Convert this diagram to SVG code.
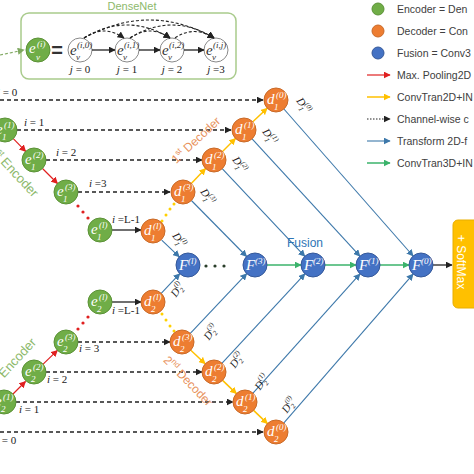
<svg xmlns="http://www.w3.org/2000/svg" width="474" height="474" viewBox="0 0 474 474">
<style>
.enc{fill:#70AD47;stroke:#5B9237;stroke-width:1}
.dec{fill:#ED7D31;stroke:#C96A28;stroke-width:1}
.fus{fill:#4472C4;stroke:#35599A;stroke-width:1}
.dn{fill:#fff;stroke:#8a8a8a;stroke-width:1}
.m{font-family:"Liberation Serif",serif;font-style:italic;fill:#fff}
.mb{font-size:15px}
.ms{font-size:9px}
.dk{fill:#333}
.lab{font-family:"Liberation Serif",serif;font-size:11px;fill:#222}
.dl{font-family:"Liberation Serif",serif;font-style:italic;fill:#222}
.leg{font-family:"Liberation Sans",Arial,sans-serif;font-size:10.5px;fill:#404040}
.dash{stroke:#222;stroke-width:1.3;stroke-dasharray:4 3;fill:none}
.solid{stroke:#222;stroke-width:1.3;fill:none}
.red{stroke:#E02020;stroke-width:1.2;fill:none}
.yel{stroke:#FFC000;stroke-width:1.5;fill:none}
.blu{stroke:#3D78AA;stroke-width:1.1;fill:none}
.grn{stroke:#3BB36B;stroke-width:1.5;fill:none}
.arc{stroke:#222;stroke-width:1.1;stroke-dasharray:3 2;fill:none}
</style>
<defs>
<marker id="ak" viewBox="0 0 10 10" refX="9" refY="5" markerWidth="7" markerHeight="7" markerUnits="userSpaceOnUse" orient="auto"><path d="M0,0L10,5L0,10z" fill="#222"/></marker>
<marker id="ar" viewBox="0 0 10 10" refX="9" refY="5" markerWidth="7" markerHeight="7" markerUnits="userSpaceOnUse" orient="auto"><path d="M0,0L10,5L0,10z" fill="#E02020"/></marker>
<marker id="ay" viewBox="0 0 10 10" refX="9" refY="5" markerWidth="7" markerHeight="7" markerUnits="userSpaceOnUse" orient="auto"><path d="M0,0L10,5L0,10z" fill="#FFC000"/></marker>
<marker id="ab" viewBox="0 0 10 10" refX="9" refY="5" markerWidth="7" markerHeight="7" markerUnits="userSpaceOnUse" orient="auto"><path d="M0,0L10,5L0,10z" fill="#3D78AA"/></marker>
<marker id="ag" viewBox="0 0 10 10" refX="9" refY="5" markerWidth="7" markerHeight="7" markerUnits="userSpaceOnUse" orient="auto"><path d="M0,0L10,5L0,10z" fill="#3BB36B"/></marker>
<marker id="agl" viewBox="0 0 10 10" refX="9" refY="5" markerWidth="7" markerHeight="7" markerUnits="userSpaceOnUse" orient="auto"><path d="M0,0L10,5L0,10z" fill="#7FA860"/></marker>
</defs>

<!-- DenseNet inset -->
<g id="densenet">
<text x="132" y="10" text-anchor="middle" font-family="Liberation Sans,Arial,sans-serif" font-size="11" fill="#8DB96B">DenseNet</text>
<rect x="21" y="13" width="215" height="66" rx="8" fill="none" stroke="#A9CB8C" stroke-width="1.5"/>
<path d="M0,55 L24,50" stroke="#7FA860" stroke-width="1.1" stroke-dasharray="3 2" fill="none" marker-end="url(#agl)"/>
<g id="ev" transform="translate(38,50)"><circle class="enc" r="12"/><text class="m mb" x="-9" y="3">e</text><text class="m ms" x="-1" y="-3">(i)</text><text class="m ms" x="-2" y="10">v</text></g>
<text x="57" y="57" text-anchor="middle" font-family="Liberation Sans,Arial,sans-serif" font-size="20" font-weight="bold" fill="#333">=</text>
<g id="ev0" transform="translate(80,50)"><circle class="dn" r="12"/><text class="m mb dk" x="-10" y="5">e</text><text class="m ms dk" x="-3" y="-2">(i,0)</text><text class="m ms dk" x="-4" y="10">v</text></g>
<g id="ev1" transform="translate(127,50)"><circle class="dn" r="12"/><text class="m mb dk" x="-10" y="5">e</text><text class="m ms dk" x="-3" y="-2">(i,1)</text><text class="m ms dk" x="-4" y="10">v</text></g>
<g id="ev2" transform="translate(172,50)"><circle class="dn" r="12"/><text class="m mb dk" x="-10" y="5">e</text><text class="m ms dk" x="-3" y="-2">(i,2)</text><text class="m ms dk" x="-4" y="10">v</text></g>
<g id="ev3" transform="translate(216,50)"><circle class="dn" r="12"/><text class="m mb dk" x="-10" y="5">e</text><text class="m ms dk" x="-3" y="-2">(i,j)</text><text class="m ms dk" x="-4" y="10">v</text></g>
<text class="lab" x="80" y="73" text-anchor="middle"><tspan font-style="italic">j</tspan> = 0</text>
<text class="lab" x="127" y="73" text-anchor="middle"><tspan font-style="italic">j</tspan> = 1</text>
<text class="lab" x="172" y="73" text-anchor="middle"><tspan font-style="italic">j</tspan> = 2</text>
<text class="lab" x="216" y="73" text-anchor="middle"><tspan font-style="italic">j</tspan> =3</text>
<g id="dn-conn">
<path class="solid" d="M92,50L115,50" marker-end="url(#ak)"/>
<path class="solid" d="M139,50L160,50" marker-end="url(#ak)"/>
<path class="solid" d="M184,50L204,50" marker-end="url(#ak)"/>
<path class="arc" d="M84,38 Q104,24 124,38" marker-end="url(#ak)"/>
<path class="arc" d="M84,38 Q127,12 170,38" marker-end="url(#ak)"/>
<path class="arc" d="M84,38 Q150,2 214,38" marker-end="url(#ak)"/>
<path class="arc" d="M130,38 Q150,24 170,38" marker-end="url(#ak)"/>
<path class="arc" d="M130,38 Q172,12 214,38" marker-end="url(#ak)"/>
<path class="arc" d="M175,38 Q194,25 214,38" marker-end="url(#ak)"/>
</g>
</g>

<!-- Legend -->
<g id="legend">
<circle class="enc" cx="378" cy="9" r="6"/><text class="leg" x="397" y="13">Encoder = Den</text>
<circle class="dec" cx="378" cy="31" r="6"/><text class="leg" x="397" y="35">Decoder = Con</text>
<circle class="fus" cx="378" cy="53" r="6"/><text class="leg" x="397" y="57">Fusion = Conv3</text>
<path class="red" d="M367,75L390,75" marker-end="url(#ar)"/><text class="leg" x="397" y="79">Max. Pooling2D</text>
<path class="yel" d="M367,97L390,97" marker-end="url(#ay)"/><text class="leg" x="397" y="101">ConvTran2D+IN</text>
<path d="M367,119L390,119" stroke="#222" stroke-width="1" stroke-dasharray="1.5 1.5" fill="none" marker-end="url(#ak)"/><text class="leg" x="397" y="123">Channel-wise c</text>
<path class="blu" d="M367,141L390,141" marker-end="url(#ab)"/><text class="leg" x="397" y="145">Transform 2D-f</text>
<path class="grn" d="M367,163L390,163" marker-end="url(#ag)"/><text class="leg" x="397" y="167">ConvTran3D+IN</text>
</g>

<!-- Connectors -->
<g id="connectors">
<path class="dash" d="M0,100L263,100" marker-end="url(#ak)"/>
<path class="dash" d="M17,130L231,130" marker-end="url(#ak)"/>
<path class="dash" d="M46,160L202,160" marker-end="url(#ak)"/>
<path class="dash" d="M78,192L170,192" marker-end="url(#ak)"/>
<path class="solid" d="M112,230L141,230" marker-end="url(#ak)"/>
<path class="solid" d="M112,302L141,302" marker-end="url(#ak)"/>
<path class="dash" d="M78,342L170,342" marker-end="url(#ak)"/>
<path class="dash" d="M46,372L202,372" marker-end="url(#ak)"/>
<path class="dash" d="M16,402L233,402" marker-end="url(#ak)"/>
<path class="dash" d="M0,432L263,432" marker-end="url(#ak)"/>
<path class="red" d="M13.3,138.6L25.7,151.4" marker-end="url(#ar)"/>
<path class="red" d="M42.5,168.5L57.5,183.5" marker-end="url(#ar)"/>
<path class="red" d="M12.5,394.5L25.5,381.5" marker-end="url(#ar)"/>
<path class="red" d="M42.6,364.6L57.4,350.4" marker-end="url(#ar)"/>
<g fill="#E02020">
<circle cx="78" cy="206" r="1.6"/><circle cx="83" cy="212" r="1.6"/><circle cx="88" cy="218" r="1.6"/>
<circle cx="78" cy="329" r="1.6"/><circle cx="83" cy="323" r="1.6"/><circle cx="88" cy="317" r="1.6"/>
</g>
<path class="yel" d="M191.3,183.4L205.6,168.6" marker-end="url(#ay)"/>
<path class="yel" d="M222.5,151.5L235.5,138.5" marker-end="url(#ay)"/>
<path class="yel" d="M252.8,121.8L267.2,108.2" marker-end="url(#ay)"/>
<path class="yel" d="M190.8,350.2L205.2,363.8" marker-end="url(#ay)"/>
<path class="yel" d="M222.6,380.4L236.4,393.6" marker-end="url(#ay)"/>
<path class="yel" d="M253.6,410.4L267.4,423.6" marker-end="url(#ay)"/>
<g fill="#FFD000">
<circle cx="162" cy="221" r="1.5"/><circle cx="166" cy="215" r="1.5"/><circle cx="170" cy="209" r="1.5"/><circle cx="174" cy="204" r="1.5"/>
<circle cx="162" cy="314" r="1.5"/><circle cx="166" cy="320" r="1.5"/><circle cx="170" cy="326" r="1.5"/><circle cx="174" cy="331" r="1.5"/>
</g>
<path class="blu" d="M161.7,240.2L179.3,256.8" marker-end="url(#ab)"/>
<path class="blu" d="M191.4,200.5L246.6,256.5" marker-end="url(#ab)"/>
<path class="blu" d="M222.2,168.7L304.8,256.3" marker-end="url(#ab)"/>
<path class="blu" d="M252.1,138.8L359.9,256.2" marker-end="url(#ab)"/>
<path class="blu" d="M283.9,109L413.1,256" marker-end="url(#ab)"/>
<path class="blu" d="M161.2,293.3L179.8,273.7" marker-end="url(#ab)"/>
<path class="blu" d="M190.3,333.3L246.7,273.7" marker-end="url(#ab)"/>
<path class="blu" d="M222.1,363.2L304.9,273.8" marker-end="url(#ab)"/>
<path class="blu" d="M253,393.1L360,273.9" marker-end="url(#ab)"/>
<path class="blu" d="M283.9,422.9L413.1,274.1" marker-end="url(#ab)"/>
<path class="grn" d="M267,265L301,265" marker-end="url(#ag)"/>
<path class="grn" d="M325,265L356,265" marker-end="url(#ag)"/>
<path class="grn" d="M380,265L409,265" marker-end="url(#ag)"/>
<path class="solid" d="M433,265L452,265" marker-end="url(#ak)"/>
<g fill="#2a3f2a"><circle cx="206" cy="266" r="1.6"/><circle cx="215" cy="266" r="1.6"/><circle cx="224" cy="266" r="1.6"/></g>
</g>

<!-- edge labels -->
<g id="labels">
<text class="lab" x="-3" y="96"><tspan font-style="italic">i</tspan> = 0</text>
<text class="lab" x="24" y="126"><tspan font-style="italic">i</tspan> = 1</text>
<text class="lab" x="56" y="156"><tspan font-style="italic">i</tspan> = 2</text>
<text class="lab" x="89" y="187"><tspan font-style="italic">i</tspan> =3</text>
<text class="lab" x="112" y="223"><tspan font-style="italic">i</tspan> =L-1</text>
<text class="lab" x="112" y="314"><tspan font-style="italic">i</tspan> =L-1</text>
<text class="lab" x="79" y="352"><tspan font-style="italic">i</tspan> = 3</text>
<text class="lab" x="47" y="383"><tspan font-style="italic">i</tspan> = 2</text>
<text class="lab" x="19" y="413"><tspan font-style="italic">i</tspan> = 1</text>
<text class="lab" x="-4" y="444"><tspan font-style="italic">i</tspan> = 0</text>

<text x="33" y="198" text-anchor="end" transform="rotate(47 33 198)" font-family="Liberation Sans,Arial,sans-serif" font-size="13" fill="#8DB96B">1<tspan font-size="8" dy="-5">st</tspan><tspan dy="5"> Encoder</tspan></text>
<text x="37" y="343" text-anchor="end" transform="rotate(-47 37 343)" font-family="Liberation Sans,Arial,sans-serif" font-size="13" fill="#8DB96B">2<tspan font-size="8" dy="-5">nd</tspan><tspan dy="5"> Encoder</tspan></text>
<text x="196" y="144" text-anchor="middle" transform="rotate(-43 196 140)" font-family="Liberation Sans,Arial,sans-serif" font-size="12" fill="#E8915A">1<tspan font-size="8" dy="-5">st</tspan><tspan dy="5"> Decoder</tspan></text>
<text x="188" y="385" text-anchor="middle" transform="rotate(46 188 381)" font-family="Liberation Sans,Arial,sans-serif" font-size="12" fill="#E8915A">2<tspan font-size="8" dy="-5">nd</tspan><tspan dy="5"> Decoder</tspan></text>
<text x="305" y="247" text-anchor="middle" font-family="Liberation Sans,Arial,sans-serif" font-size="12" fill="#2E75B6">Fusion</text>

<g transform="translate(302,104) rotate(55)"><text class="dl" x="-6" y="3" font-size="11">D</text><text class="dl" x="2" y="-2" font-size="7">(0)</text><text class="dl" x="2" y="6" font-size="7">1</text></g>
<g transform="translate(268,135) rotate(55)"><text class="dl" x="-6" y="3" font-size="11">D</text><text class="dl" x="2" y="-2" font-size="7">(1)</text><text class="dl" x="2" y="6" font-size="7">1</text></g>
<g transform="translate(238,163) rotate(55)"><text class="dl" x="-6" y="3" font-size="11">D</text><text class="dl" x="2" y="-2" font-size="7">(2)</text><text class="dl" x="2" y="6" font-size="7">1</text></g>
<g transform="translate(206,195) rotate(55)"><text class="dl" x="-6" y="3" font-size="11">D</text><text class="dl" x="2" y="-2" font-size="7">(3)</text><text class="dl" x="2" y="6" font-size="7">1</text></g>
<g transform="translate(178,239) rotate(55)"><text class="dl" x="-6" y="3" font-size="11">D</text><text class="dl" x="2" y="-2" font-size="7">(l)</text><text class="dl" x="2" y="6" font-size="7">1</text></g>
<g transform="translate(177,291) rotate(-55)"><text class="dl" x="-6" y="3" font-size="11">D</text><text class="dl" x="2" y="-2" font-size="7">(l)</text><text class="dl" x="2" y="6" font-size="7">2</text></g>
<g transform="translate(210,334) rotate(-55)"><text class="dl" x="-6" y="3" font-size="11">D</text><text class="dl" x="2" y="-2" font-size="7">(3)</text><text class="dl" x="2" y="6" font-size="7">2</text></g>
<g transform="translate(236,362) rotate(-55)"><text class="dl" x="-6" y="3" font-size="11">D</text><text class="dl" x="2" y="-2" font-size="7">(2)</text><text class="dl" x="2" y="6" font-size="7">2</text></g>
<g transform="translate(261,384) rotate(-55)"><text class="dl" x="-6" y="3" font-size="11">D</text><text class="dl" x="2" y="-2" font-size="7">(1)</text><text class="dl" x="2" y="6" font-size="7">2</text></g>
<g transform="translate(288,407) rotate(-55)"><text class="dl" x="-6" y="3" font-size="11">D</text><text class="dl" x="2" y="-2" font-size="7">(0)</text><text class="dl" x="2" y="6" font-size="7">2</text></g>
</g>

<g id="e1_1" transform="translate(5,130)"><circle class="enc" r="12"/><text class="m mb" x="-9" y="4">e</text><text class="m ms" x="-1" y="-2">(1)</text><text class="m ms" x="-3" y="10">1</text></g>
<g id="e1_2" transform="translate(34,160)"><circle class="enc" r="12"/><text class="m mb" x="-9" y="4">e</text><text class="m ms" x="-1" y="-2">(2)</text><text class="m ms" x="-3" y="10">1</text></g>
<g id="e1_3" transform="translate(66,192)"><circle class="enc" r="12"/><text class="m mb" x="-9" y="4">e</text><text class="m ms" x="-1" y="-2">(3)</text><text class="m ms" x="-3" y="10">1</text></g>
<g id="e1_l" transform="translate(100,230)"><circle class="enc" r="12"/><text class="m mb" x="-9" y="4">e</text><text class="m ms" x="-1" y="-2">(l)</text><text class="m ms" x="-3" y="10">1</text></g>
<g id="e2_l" transform="translate(100,302)"><circle class="enc" r="12"/><text class="m mb" x="-9" y="4">e</text><text class="m ms" x="-1" y="-2">(l)</text><text class="m ms" x="-3" y="10">2</text></g>
<g id="e2_3" transform="translate(66,342)"><circle class="enc" r="12"/><text class="m mb" x="-9" y="4">e</text><text class="m ms" x="-1" y="-2">(3)</text><text class="m ms" x="-3" y="10">2</text></g>
<g id="e2_2" transform="translate(34,372)"><circle class="enc" r="12"/><text class="m mb" x="-9" y="4">e</text><text class="m ms" x="-1" y="-2">(2)</text><text class="m ms" x="-3" y="10">2</text></g>
<g id="e2_1" transform="translate(4,402)"><circle class="enc" r="12"/><text class="m mb" x="-9" y="4">e</text><text class="m ms" x="-1" y="-2">(1)</text><text class="m ms" x="-3" y="10">2</text></g>
<g id="d1_l" transform="translate(153,231)"><circle class="dec" r="12"/><text class="m mb" x="-9" y="4">d</text><text class="m ms" x="0" y="-2">(l)</text><text class="m ms" x="-2" y="10">1</text></g>
<g id="d1_3" transform="translate(183,192)"><circle class="dec" r="12"/><text class="m mb" x="-9" y="4">d</text><text class="m ms" x="0" y="-2">(3)</text><text class="m ms" x="-2" y="10">1</text></g>
<g id="d1_2" transform="translate(214,160)"><circle class="dec" r="12"/><text class="m mb" x="-9" y="4">d</text><text class="m ms" x="0" y="-2">(2)</text><text class="m ms" x="-2" y="10">1</text></g>
<g id="d1_1" transform="translate(244,130)"><circle class="dec" r="12"/><text class="m mb" x="-9" y="4">d</text><text class="m ms" x="0" y="-2">(1)</text><text class="m ms" x="-2" y="10">1</text></g>
<g id="d1_0" transform="translate(276,100)"><circle class="dec" r="12"/><text class="m mb" x="-9" y="4">d</text><text class="m ms" x="0" y="-2">(0)</text><text class="m ms" x="-2" y="10">1</text></g>
<g id="d2_l" transform="translate(153,302)"><circle class="dec" r="12"/><text class="m mb" x="-9" y="4">d</text><text class="m ms" x="0" y="-2">(l)</text><text class="m ms" x="-2" y="10">2</text></g>
<g id="d2_3" transform="translate(182,342)"><circle class="dec" r="12"/><text class="m mb" x="-9" y="4">d</text><text class="m ms" x="0" y="-2">(3)</text><text class="m ms" x="-2" y="10">2</text></g>
<g id="d2_2" transform="translate(214,372)"><circle class="dec" r="12"/><text class="m mb" x="-9" y="4">d</text><text class="m ms" x="0" y="-2">(2)</text><text class="m ms" x="-2" y="10">2</text></g>
<g id="d2_1" transform="translate(245,402)"><circle class="dec" r="12"/><text class="m mb" x="-9" y="4">d</text><text class="m ms" x="0" y="-2">(1)</text><text class="m ms" x="-2" y="10">2</text></g>
<g id="d2_0" transform="translate(276,432)"><circle class="dec" r="12"/><text class="m mb" x="-9" y="4">d</text><text class="m ms" x="0" y="-2">(0)</text><text class="m ms" x="-2" y="10">2</text></g>
<g id="F_l" transform="translate(188,265)"><circle class="fus" r="12"/><text class="m mb" x="-9" y="5">F</text><text class="m ms" x="0" y="-1">(l)</text></g>
<g id="F_3" transform="translate(255,265)"><circle class="fus" r="12"/><text class="m mb" x="-9" y="5">F</text><text class="m ms" x="0" y="-1">(3)</text></g>
<g id="F_2" transform="translate(313,265)"><circle class="fus" r="12"/><text class="m mb" x="-9" y="5">F</text><text class="m ms" x="0" y="-1">(2)</text></g>
<g id="F_1" transform="translate(368,265)"><circle class="fus" r="12"/><text class="m mb" x="-9" y="5">F</text><text class="m ms" x="0" y="-1">(1)</text></g>
<g id="F_0" transform="translate(421,265)"><circle class="fus" r="12"/><text class="m mb" x="-9" y="5">F</text><text class="m ms" x="0" y="-1">(0)</text></g>
<g id="output">
<rect x="453" y="220" width="40" height="88" rx="5" fill="#FFC000" stroke="#E8AE00" stroke-width="1"/>
<text transform="translate(457,262) rotate(90)" text-anchor="middle" font-family="Liberation Sans,Arial,sans-serif" font-size="12" fill="#fff">+ SoftMax</text>
</g>
</svg>
